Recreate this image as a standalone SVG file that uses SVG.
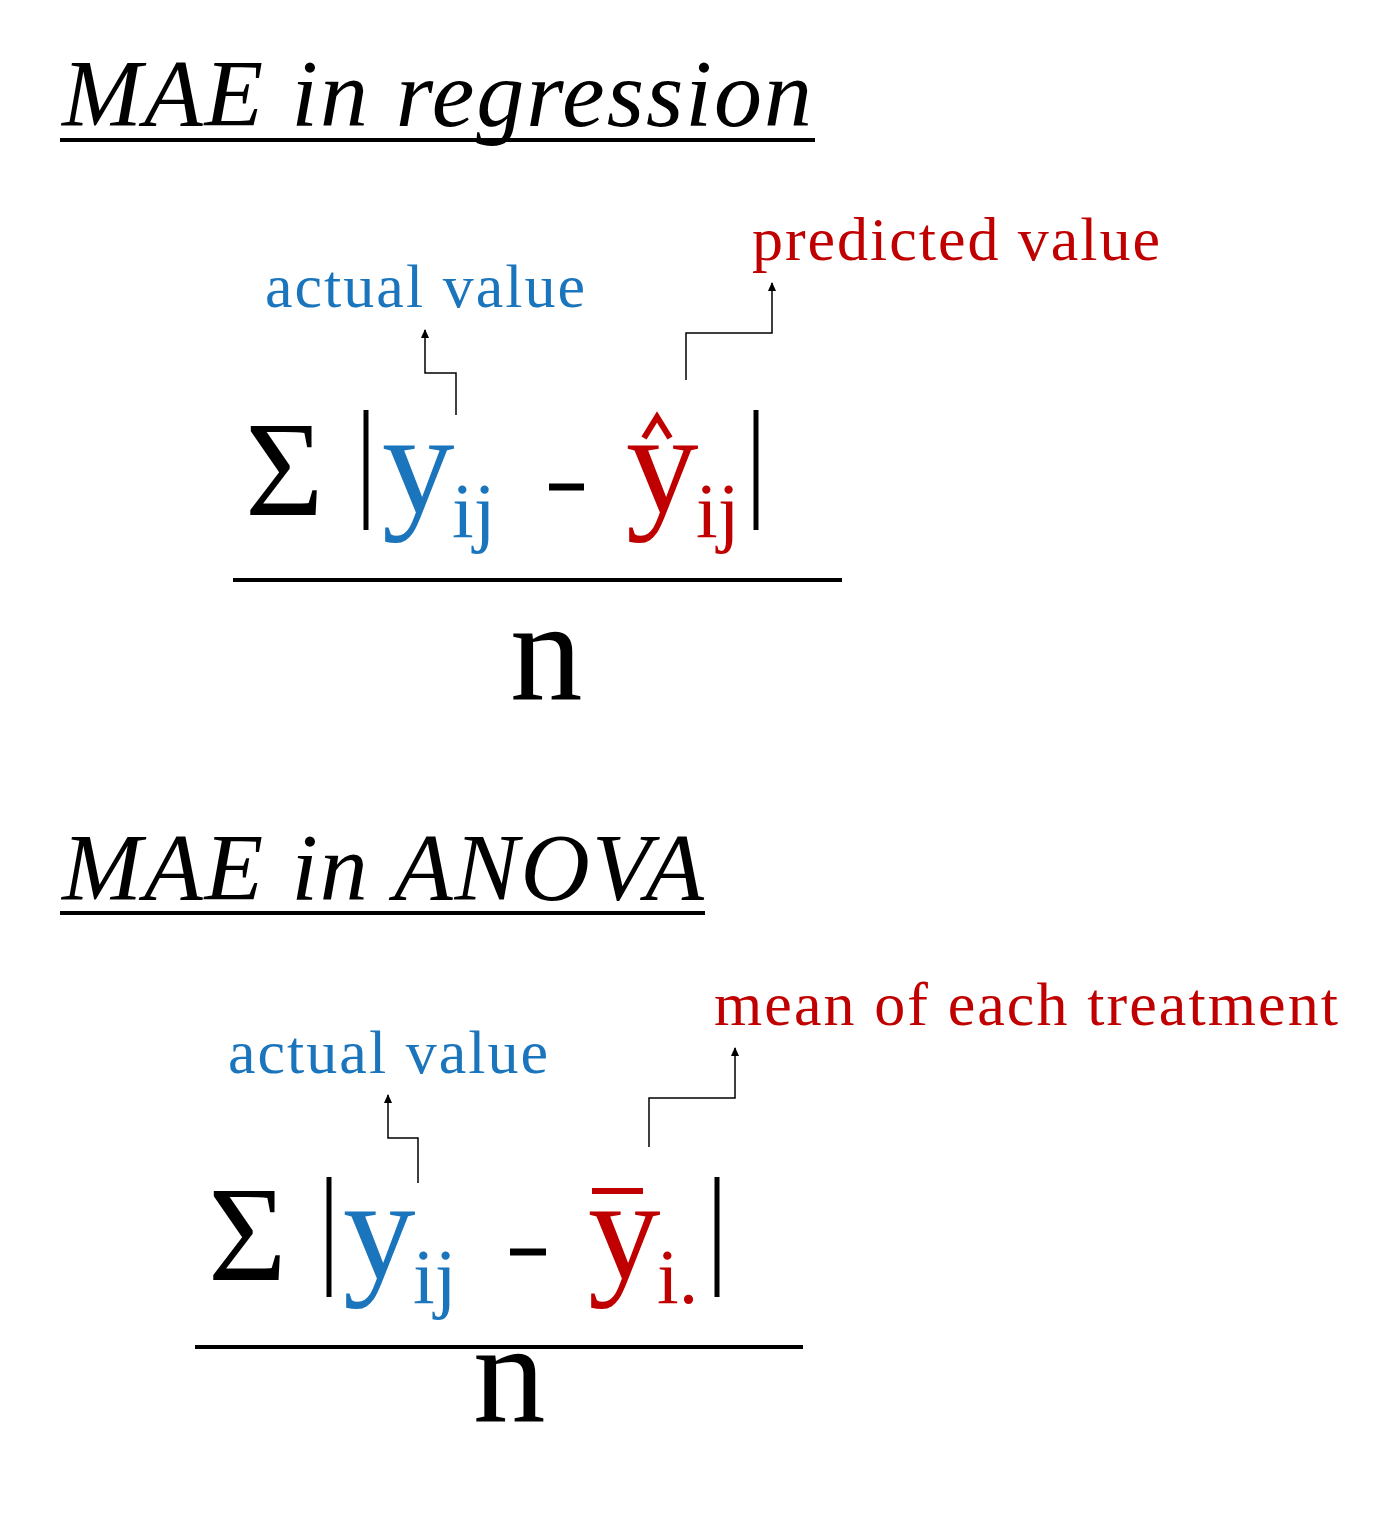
<svg xmlns="http://www.w3.org/2000/svg" width="1394" height="1536" viewBox="0 0 1394 1536">
<style>
text{font-family:"Liberation Serif","Times New Roman",serif}
.t{font-size:96px;font-style:italic;fill:#000}
.lb{font-size:62px;fill:#1a75bc}
.lr{font-size:62px;fill:#c00000}
.b{fill:#1a75bc}.r{fill:#c00000}.k{fill:#000}
.big{font-size:145px}.sub{font-size:78px}.sig{font-size:135px}
.c{fill:none;stroke:#000;stroke-width:1.5}
</style>
<defs><marker id="a" markerWidth="9" markerHeight="8" refX="8" refY="4" orient="auto" markerUnits="userSpaceOnUse" viewBox="0 0 9 8"><path d="M0,0 L9,4 L0,8z" fill="#000"/></marker></defs>
<rect width="1394" height="1536" fill="#fff"/>
<g id="title1"><text class="t" x="62" y="126" textLength="750">MAE in regression</text><line x1="60" y1="140" x2="815" y2="140" stroke="#000" stroke-width="4"/></g>
<g id="label-actual1"><text class="lb" x="265" y="307" textLength="320">actual value</text></g>
<g id="label-pred"><text class="lr" x="752" y="260" textLength="408">predicted value</text></g>
<g id="formula1">
<text class="k sig" x="245" y="515">Σ</text>
<line x1="366" y1="410" x2="366" y2="530" stroke="#000" stroke-width="5"/>
<text class="b big" x="382" y="512">y</text><text class="b sub" x="452" y="537">ij</text>
<line x1="549" y1="487" x2="584" y2="487" stroke="#000" stroke-width="7"/>
<text class="r big" x="626" y="512">y</text><path d="M644,438 L657,417 L670,438" fill="none" stroke="#c00000" stroke-width="6"/><text class="r sub" x="696" y="537">ij</text>
<line x1="756" y1="410" x2="756" y2="530" stroke="#000" stroke-width="5"/>
<line x1="233" y1="580" x2="842" y2="580" stroke="#000" stroke-width="4"/>
<text class="k big" x="510" y="700">n</text>
</g>
<g id="title2"><text class="t" x="62" y="900" textLength="642">MAE in ANOVA</text><line x1="60" y1="913" x2="705" y2="913" stroke="#000" stroke-width="4"/></g>
<g id="label-actual2"><text class="lb" x="228" y="1073" textLength="320">actual value</text></g>
<g id="label-mean"><text class="lr" x="714" y="1025" textLength="624">mean of each treatment</text></g>
<g id="formula2">
<text class="k sig" x="208" y="1280">Σ</text>
<line x1="329" y1="1177" x2="329" y2="1297" stroke="#000" stroke-width="5"/>
<text class="b big" x="343" y="1278">y</text><text class="b sub" x="413" y="1303">ij</text>
<line x1="510" y1="1252" x2="546" y2="1252" stroke="#000" stroke-width="7"/>
<text class="r big" x="588" y="1278">y</text><line x1="592" y1="1191" x2="643" y2="1191" stroke="#c00000" stroke-width="6"/><text class="r sub" x="657" y="1303">i.</text>
<line x1="717" y1="1177" x2="717" y2="1297" stroke="#000" stroke-width="5"/>
<line x1="195" y1="1347" x2="803" y2="1347" stroke="#000" stroke-width="4"/>
<text class="k big" x="473" y="1422">n</text>
</g>
<g id="connectors">
<path class="c" d="M456,415 V373 H425 V330" marker-end="url(#a)"/>
<path class="c" d="M686,380 V333 H772 V283" marker-end="url(#a)"/>
<path class="c" d="M418,1183 V1138 H388 V1095" marker-end="url(#a)"/>
<path class="c" d="M649,1147 V1098 H735 V1048" marker-end="url(#a)"/>
</g>
</svg>
